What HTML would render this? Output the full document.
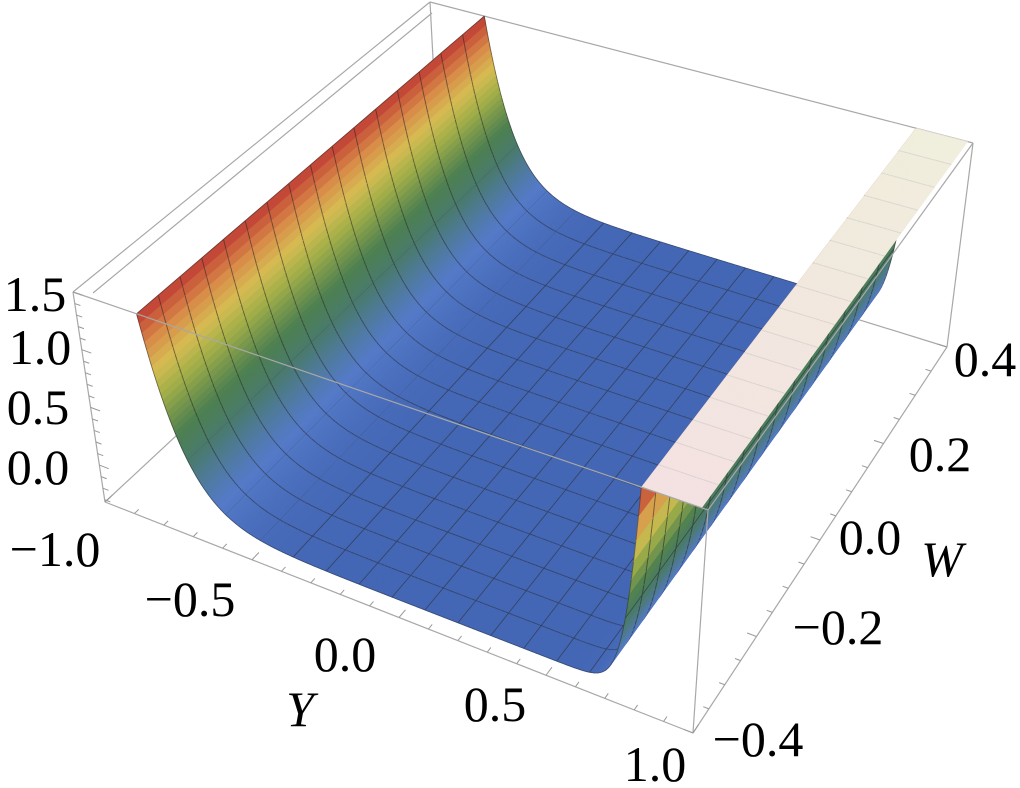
<!DOCTYPE html>
<html><head><meta charset="utf-8"><style>
html,body{margin:0;padding:0;background:#fff;}
svg{display:block;}
text{font-family:"Liberation Serif","Times New Roman",Times,serif;font-size:50px;fill:#000;}
</style></head><body>
<svg id="chart" width="1020" height="788" viewBox="0 0 1020 788" xmlns="http://www.w3.org/2000/svg">
<g id="boxBack"></g>
<g id="surf"></g>
<g id="boxFront"></g>
<g id="ticks"></g>
<g id="labels"></g>
<text x="300" y="726" font-style="italic" text-anchor="middle">Y</text>
<text x="942" y="576" font-style="italic" text-anchor="middle">W</text>
</svg>
<script>
// ---- data ----
const yRange = [-1, 1];
const wRange = [-0.4, 0.4];
const zRange = [-0.32, 1.5];
const yDomain = [-0.8, 0.98];
const floorLevel = [-0.17];
const leftWall = [1.67, 0.095];   // amplitude, decay
const rightWall = [1.67, 0.79, 0.03]; // amplitude, center, decay
const zClip = [1.5];
const meshCount = [16, 16];
const yTicks = [-1, -0.5, 0, 0.5, 1];
const yTickLabels = ["\u22121.0", "\u22120.5", "0.0", "0.5", "1.0"];
const wTicks = [-0.4, -0.2, 0, 0.2, 0.4];
const wTickLabels = ["\u22120.4", "\u22120.2", "0.0", "0.2", "0.4"];
const zTicks = [0, 0.5, 1, 1.5];
const zTickLabels = ["0.0", "0.5", "1.0", "1.5"];

// box corners on screen (projection geometry)
const A=[105,502],B=[693,733],C=[947,347],D=[440,190];
const At=[73,292],Bt=[708,510],Ct=[973,143],Dt=[430,2];
const NS="http://www.w3.org/2000/svg";
function lerp(p,q,t){return [p[0]+(q[0]-p[0])*t,p[1]+(q[1]-p[1])*t];}
function proj(Y,W,Z){
  const u=(Y-yRange[0])/(yRange[1]-yRange[0]);
  const v=(W-wRange[0])/(wRange[1]-wRange[0]);
  const s=(Z-zRange[0])/(zRange[1]-zRange[0]);
  const b=lerp(lerp(A,B,u),lerp(D,C,u),v);
  const t=lerp(lerp(At,Bt,u),lerp(Dt,Ct,u),v);
  return lerp(b,t,s);
}
function f(Y,W){
  let z=floorLevel[0];
  z+=leftWall[0]*Math.exp(-(Y-yDomain[0])/leftWall[1]);
  z+=rightWall[0]*Math.exp((Y-rightWall[1])/rightWall[2]);
  return Math.min(z,zClip[0]);
}
const stops=[[0,[68,103,181]],[0.12,[84,122,200]],[0.3,[74,122,110]],[0.42,[77,128,80]],[0.6,[160,173,72]],[0.72,[214,189,82]],[0.85,[216,138,72]],[1,[191,59,52]]];
function col(z){
  let h=(z-floorLevel[0])/(zClip[0]-floorLevel[0]);h=Math.max(0,Math.min(1,h));
  for(let i=1;i<stops.length;i++){if(h<=stops[i][0]){const a=stops[i-1],b=stops[i];const t=(h-a[0])/(b[0]-a[0]);
    return 'rgb('+a[1].map((c,k)=>Math.round(c+(b[1][k]-c)*t)).join(',')+')';}}
  return 'rgb(191,59,52)';
}
// surface
const surf=document.getElementById('surf');
const sub=24, NY=meshCount[0]*sub, NW=meshCount[1];
const cam=[1.6,-1.2,2.5];
const quads=[];
for(let i=0;i<NY;i++){
  const y0=yDomain[0]+(yDomain[1]-yDomain[0])*i/NY, y1=yDomain[0]+(yDomain[1]-yDomain[0])*(i+1)/NY;
  for(let j=0;j<NW;j++){
    const w0=wRange[0]+(wRange[1]-wRange[0])*j/NW, w1=wRange[0]+(wRange[1]-wRange[0])*(j+1)/NW;
    const z0=f(y0,w0),z1=f(y1,w0),z2=f(y1,w1),z3=f(y0,w1);
    const u=((y0+y1)/2-yRange[0])/(yRange[1]-yRange[0]), v=((w0+w1)/2-wRange[0])/(wRange[1]-wRange[0]);
    const zm=(z0+z1+z2+z3)/4;
    const s=(zm-zRange[0])/(zRange[1]-zRange[0]);
    const d=(u-cam[0])**2+(v-cam[1])**2+(s-cam[2])**2;
    const clipped=(y0>0&&zm>zClip[0]-0.05);
    const capCol = 'rgb('+[Math.round(244-4*v),Math.round(226+12*v),Math.round(226-6*v)].join(',')+')';
    quads.push({d,pts:[proj(y0,w0,z0),proj(y1,w0,z1),proj(y1,w1,z2),proj(y0,w1,z3)],c:clipped?capCol:col(zm),cl:clipped,mi:i%sub===0});
  }
}
quads.sort((a,b)=>b.d-a.d);
for(const q of quads){
  const p=q.pts;
  const poly=document.createElementNS(NS,'polygon');
  
  
  poly.setAttribute('points',p.map(a=>a[0].toFixed(1)+','+a[1].toFixed(1)).join(' '));
  poly.setAttribute('fill',q.c);poly.setAttribute('stroke',q.c);poly.setAttribute('stroke-width','0.6');
  surf.appendChild(poly);
  let dstr='M'+p[0][0]+','+p[0][1]+'L'+p[1][0]+','+p[1][1]+'M'+p[3][0]+','+p[3][1]+'L'+p[2][0]+','+p[2][1];
  if(q.mi && !q.cl) dstr+='M'+p[0][0]+','+p[0][1]+'L'+p[3][0]+','+p[3][1];
  const m=document.createElementNS(NS,'path');
  
  
  m.setAttribute('d',dstr);m.setAttribute('stroke',q.cl?'rgba(190,190,190,0.5)':'rgba(40,40,40,0.55)');m.setAttribute('stroke-width','0.9');m.setAttribute('fill','none');
  surf.appendChild(m);
}
function line(g,p,q,name,w,c){
  const l=document.createElementNS(NS,'line');
  
  
  l.setAttribute('x1',p[0]);l.setAttribute('y1',p[1]);l.setAttribute('x2',q[0]);l.setAttribute('y2',q[1]);
  l.setAttribute('stroke',c||'#a8a8a8');l.setAttribute('stroke-width',w||1.2);g.appendChild(l);
}
const bb=document.getElementById('boxBack'),bf=document.getElementById('boxFront');
line(bb,D,C,'box-edge');line(bb,A,D,'box-edge');line(bb,D,Dt,'box-edge');line(bb,At,Dt,'box-edge');line(bb,Dt,Ct,'box-edge');line(bb,C,Ct,'box-edge');
line(bb,A,At,'box-edge');line(bb,[93,293],[432,13],'box-inner-edge');
line(bf,A,B,'box-edge');line(bf,B,C,'box-edge');line(bf,B,Bt,'box-edge');line(bf,At,Bt,'box-edge');line(bf,Bt,Ct,'box-edge');
// ticks
const tg=document.getElementById('ticks');
function tick(p,dir,len){line(tg,p,[p[0]+dir[0]*len,p[1]+dir[1]*len],'tick-mark',1,'#999');}
function norm(v){const l=Math.hypot(v[0],v[1]);return [v[0]/l,v[1]/l];}
for(let k=0;k<=20;k++){const Y=-1+k*0.1;const p=proj(Y,wRange[0],zRange[0]);const q=proj(Y,wRange[0]+0.1,zRange[0]);tick(p,norm([q[0]-p[0],q[1]-p[1]]),k%5===0?10:6);}
for(let k=0;k<=16;k++){const W=-0.4+k*0.05;const p=proj(yRange[1],W,zRange[0]);const q=proj(yRange[1]-0.1,W,zRange[0]);tick(p,norm([q[0]-p[0],q[1]-p[1]]),k%4===0?10:6);}
for(let k=0;k<=18;k++){const Z=-0.3+k*0.1;if(Z>1.5001)break;const p=proj(yRange[0],wRange[0],Z);const q=proj(yRange[0]+0.1,wRange[0],Z);tick(p,norm([q[0]-p[0],q[1]-p[1]]),Math.abs(Z*2-Math.round(Z*2))<1e-6?10:6);}
// labels
const lg=document.getElementById('labels');
function label(txt,x,y,name){const t=document.createElementNS(NS,'text');
  
  
  t.setAttribute('x',x);t.setAttribute('y',y);t.setAttribute('text-anchor','middle');t.textContent=txt;lg.appendChild(t);}
const yPos=[[55,566],[190,616],[345,671],[495,721],[655,781]];
yTicks.forEach((v,i)=>label(yTickLabels[i],yPos[i][0],yPos[i][1],'y-tick-label'));
const wPos=[[758,756],[838,644],[870,554],[940,471],[985,376]];
wTicks.forEach((v,i)=>label(wTickLabels[i],wPos[i][0],wPos[i][1],'w-tick-label'));
const zPos=[[38,484],[38,424],[40,364],[35,311]];
zTicks.forEach((v,i)=>label(zTickLabels[i],zPos[i][0],zPos[i][1],'z-tick-label'));
</script>
</body></html>
